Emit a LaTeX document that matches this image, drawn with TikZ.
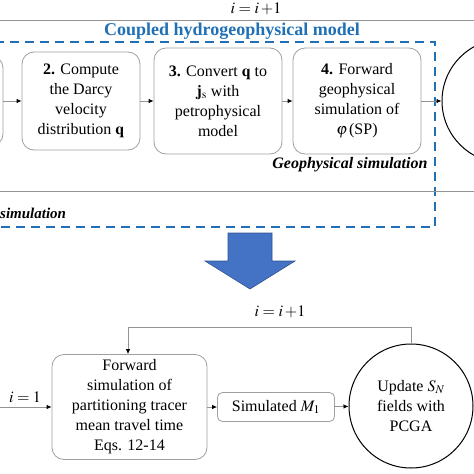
\documentclass[tikz,border=0pt]{standalone}
\usepackage{mathptmx}
\usepackage{fontspec}
\setmainfont{Liberation Serif}[BoldFont={Liberation Serif Bold}, ItalicFont={Liberation Serif Italic}, BoldItalicFont={Liberation Serif Bold Italic}]
\usetikzlibrary{arrows.meta}
\definecolor{cblue}{RGB}{31,112,181}
\definecolor{afill}{RGB}{68,114,196}
\definecolor{aedge}{RGB}{47,82,143}

\begin{document}
\begin{tikzpicture}[x=1pt,y=-1pt,
  box/.style={draw=gray!75, line width=0.8pt, rounded corners=12pt, align=center, inner sep=0pt, font=\fontsize{16}{20}\selectfont},
  link/.style={draw=gray!85, line width=0.8pt, -{Latex[length=5pt,width=4.5pt,color=black]}},
  loopline/.style={draw=gray!85, line width=0.8pt},
  lbl/.style={font=\fontsize{16}{20}\selectfont}]
\clip (0,0) rectangle (474,474);
% upper diagram
\draw[loopline] (0,20) -- (474,20);
\node[lbl] (iup) at (256,9) {$i=i\,{+}1$};
\draw[cblue, line width=2.2pt, dash pattern=on 9pt off 6pt] (-5,42) -- (435,42) -- (435,227) -- (-5,227);
\node[text=cblue, font=\bfseries\fontsize{18}{20}\selectfont] (title) at (232,31) {Coupled hydrogeophysical model};
\node[box, minimum width=126pt, minimum height=90pt] (s1) at (-60,101) {};
\node[box, minimum width=118pt, minimum height=98pt] (s2) at (81,101) {\textbf{2.} Compute\\the Darcy\\velocity\\distribution $\mathbf{q}$};
\node[box, minimum width=128pt, minimum height=106pt] (s3) at (218,101) {\textbf{3.} Convert $\mathbf{q}$ to\\$\mathbf{j}_\mathrm{s}$ with\\petrophysical\\model};
\node[box, minimum width=128pt, minimum height=106pt] (s4) at (357,101) {\textbf{4.} Forward\\geophysical\\simulation of\\$\varphi\,$(SP)};
\node[draw, line width=1pt, circle, minimum size=124pt] (c1) at (504,101) {};
\draw[link] (s1) -- (s2);
\draw[link] (s2) -- (s3);
\draw[link] (s3) -- (s4);
\draw[link] (s4) -- (c1);
\node[font=\bfseries\itshape\fontsize{16}{18}\selectfont, anchor=east] (geo) at (431,165) {Geophysical simulation};
\draw[loopline] (0,191) -- (474,191);
\node[font=\bfseries\itshape\fontsize{15}{18}\selectfont, anchor=west, inner xsep=0pt] (hyd) at (0,213) {simulation};
% big arrow
\filldraw[fill=afill, draw=aedge, line width=0.6pt] (228,233) -- (272,233) -- (272,261) -- (295,261) -- (250,289) -- (205,261) -- (228,261) -- cycle;
% lower diagram
\node[box, minimum width=155pt, minimum height=105pt] (fwd) at (129.5,407) {Forward\\simulation of\\partitioning tracer\\mean travel time\\Eqs. 12-14};
\node[box, rounded corners=5pt, minimum width=117pt, minimum height=29pt] (sim) at (276,407) {Simulated $M_1$};
\node[draw, line width=1pt, circle, minimum size=124pt, align=center, font=\fontsize{16}{20}\selectfont] (pcga) at (411,406) {Update $S_N$\\fields with\\PCGA};
\coordinate (in) at (0,407);
\coordinate (back) at (128,327);
\node[lbl] (ione) at (25,397) {$i=1$};
\node[lbl] (idown) at (280,312) {$i=i\,{+}1$};
\draw[link] (in) -- (fwd);
\draw[link] (fwd) -- (sim);
\draw[link] (sim) -- (pcga);
\draw[link] (pcga.north) |- (back) -- (back |- fwd.north);
\end{tikzpicture}
\end{document}
